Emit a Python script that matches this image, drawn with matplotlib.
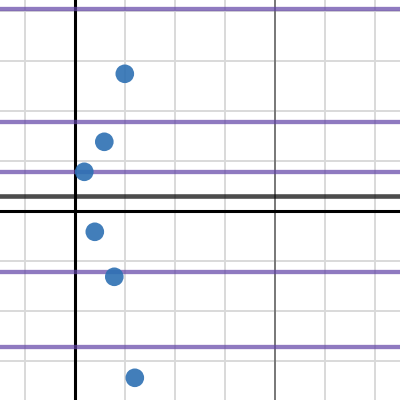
import matplotlib
matplotlib.use("Agg")
import matplotlib.pyplot as plt

# Data
point_x = [0.18, 0.39, 0.58, 0.78, 0.99, 1.19]
point_y = [0.79, -0.41, 1.39, -1.31, 2.75, -3.33]
purple_levels = [4.05, 1.79, 0.79, -1.21, -2.71]
dark_level = 0.31
gray_vertical = 4.0
x_grid = [-1, 0, 1, 2, 3, 4, 5, 6]
y_grid = [-3, -2, -1, 0, 1, 2, 3, 4]

fig = plt.figure(figsize=(4, 4), dpi=100)
ax = fig.add_axes([0, 0, 1, 1])
ax.set_xlim(-1.506, 6.494)
ax.set_ylim(-3.774, 4.226)

for gx in x_grid:
    ax.axvline(gx, color="#d9d9d9", lw=1.4, zorder=0)
for gy in y_grid:
    ax.axhline(gy, color="#d9d9d9", lw=1.4, zorder=0)

ax.axhline(0, color="black", lw=2.2, zorder=1)
ax.axvline(0, color="black", lw=2.2, zorder=1)

ax.axvline(gray_vertical, color="black", alpha=0.45, lw=1.4, zorder=2)
ax.axhline(dark_level, color="black", alpha=0.7, lw=3.3, zorder=2)
for py in purple_levels:
    ax.axhline(py, color="#6042a6", alpha=0.7, lw=3.1, zorder=2)

ax.scatter(point_x, point_y, s=180, color="#2d70b3", alpha=0.9,
           edgecolors="none", zorder=3)

ax.set_xticks([])
ax.set_yticks([])
for sp in ax.spines.values():
    sp.set_visible(False)

fig.savefig("out.png", dpi=100)
